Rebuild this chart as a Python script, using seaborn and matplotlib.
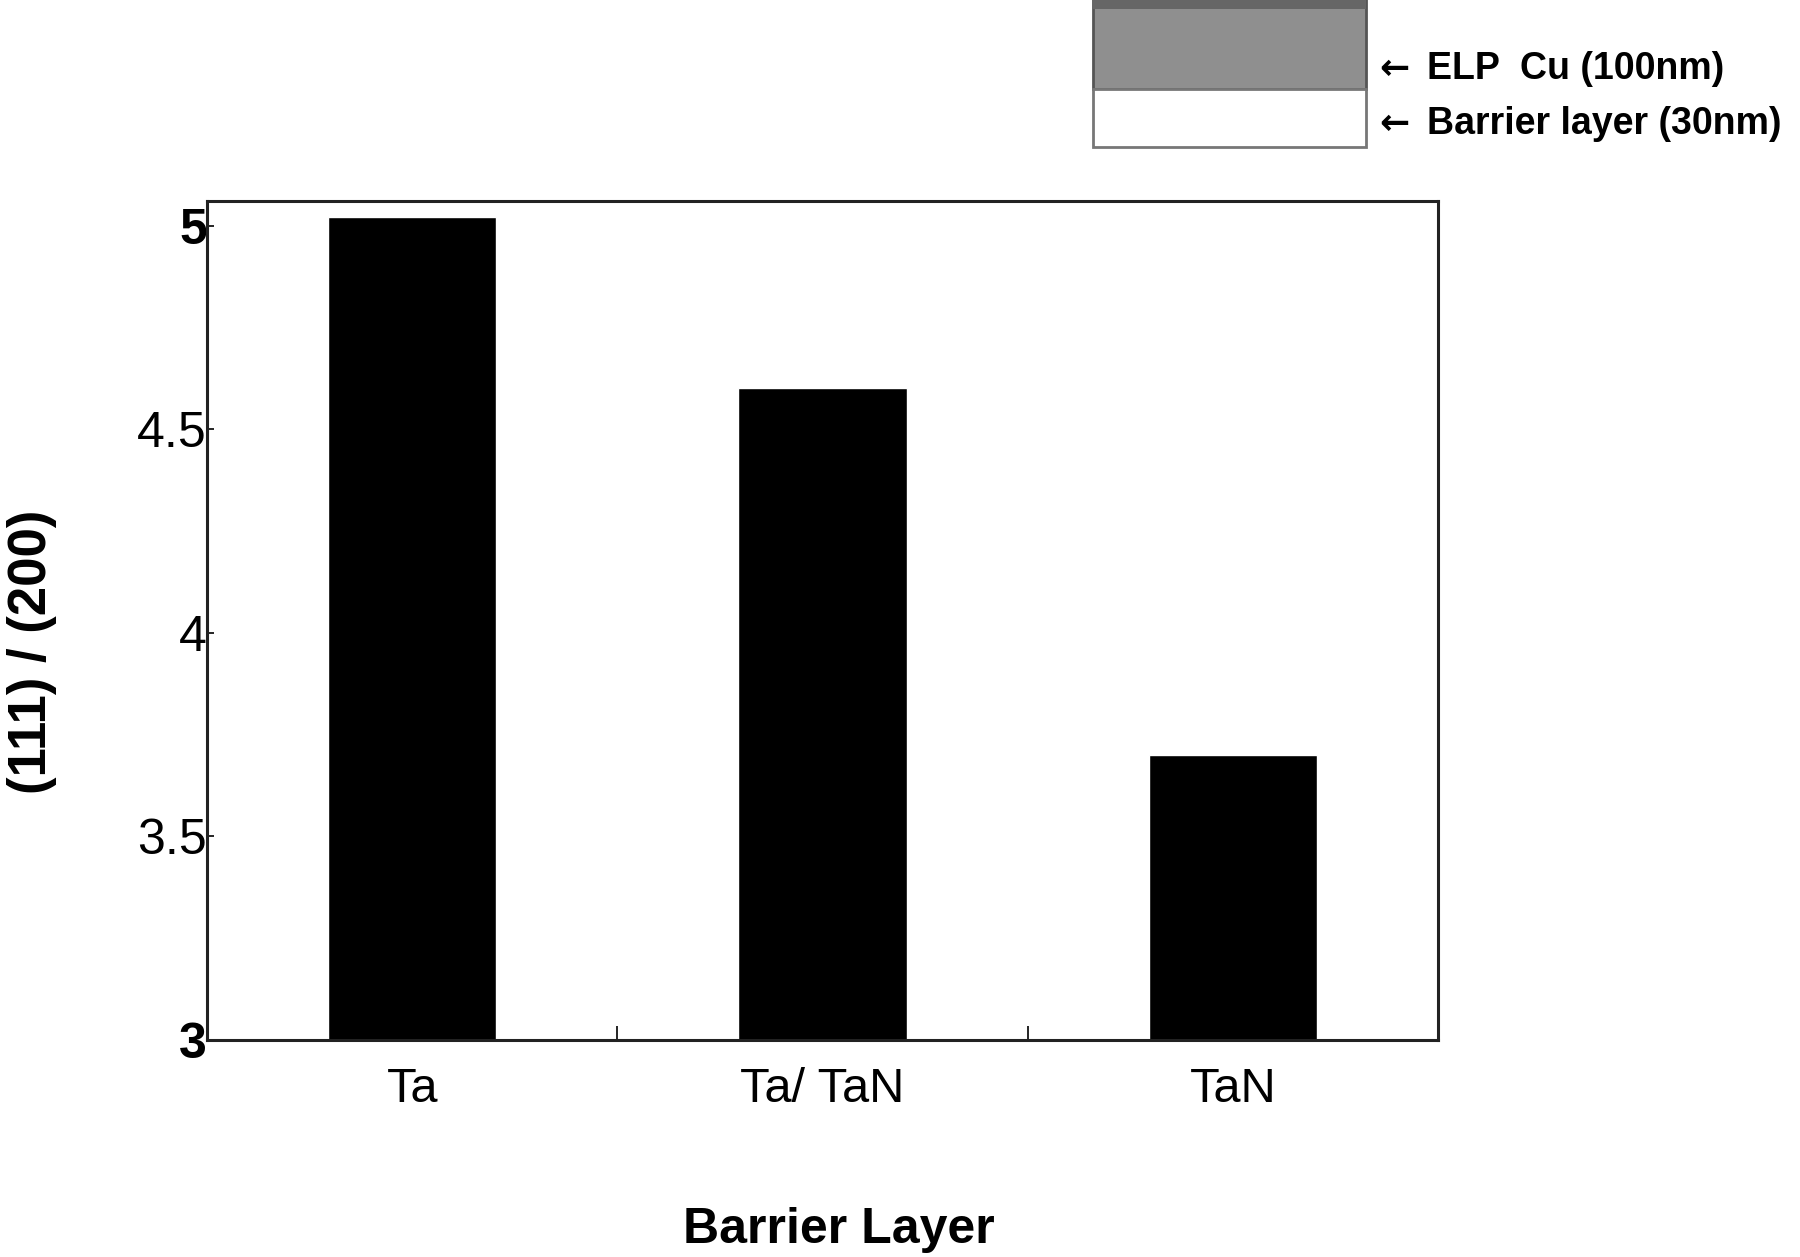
import matplotlib
matplotlib.use("Agg")
import matplotlib.pyplot as plt
import pandas as pd
import seaborn as sns
from matplotlib.patches import Rectangle

barriers = ["Ta", "Ta/ TaN", "TaN"]
ratio_111_200 = [5.02, 4.6, 3.7]
y_ticks = [3, 3.5, 4, 4.5, 5]
y_tick_labels = ["3", "3.5", "4", "4.5", "5"]
stack_labels = ["ELP  Cu (100nm)", "Barrier layer (30nm)"]

sns.set_style("white")
plt.rcParams["font.family"] = ["Liberation Sans", "DejaVu Sans"]
plt.rcParams["text.color"] = "black"
plt.rcParams["axes.labelcolor"] = "black"
plt.rcParams["xtick.color"] = "black"
plt.rcParams["ytick.color"] = "black"

df = pd.DataFrame({"barrier": barriers, "ratio": ratio_111_200})

fig = plt.figure(figsize=(18, 12.57), dpi=100)
ax = fig.add_axes([0.115, 0.173, 0.684, 0.667])

sns.barplot(data=df, x="barrier", y="ratio", color="black", width=0.41,
            saturation=1, ax=ax)
ax.set_xlim(-0.5, 2.5)
ax.set_ylim(3, 5.06)

ax.set_yticks(y_ticks)
ax.set_yticklabels(y_tick_labels, fontsize=36)
for lbl in ax.get_yticklabels():
    if lbl.get_text() in ("3", "5"):
        lbl.set_fontweight("bold")
ax.tick_params(axis="y", direction="in", length=5, width=1.2, pad=0, left=True)
ax.tick_params(axis="x", length=0, pad=20, labelsize=35)
ax.set_xticks([0.5, 1.5], minor=True)
ax.tick_params(axis="x", which="minor", direction="in", length=10, width=1.2, bottom=True)

for s in ax.spines.values():
    s.set_visible(True)
    s.set_color("#222222")
    s.set_linewidth(2.2)

ax.set_xlabel("Barrier Layer", fontsize=36, fontweight="bold")
ax.xaxis.set_label_coords(0.513, -0.2)
ax.set_ylabel("(111) / (200)", fontsize=38, fontweight="bold")
ax.yaxis.set_label_coords(-0.122, 0.462)

# layer stack sketch in the top right corner
fig.patches.append(Rectangle((0.607, 0.929), 0.152, 0.071, transform=fig.transFigure,
                             facecolor="#8f8f8f", edgecolor="#555555", linewidth=2))
fig.patches.append(Rectangle((0.607, 0.993), 0.152, 0.007, transform=fig.transFigure,
                             facecolor="#666666", edgecolor="none"))
fig.patches.append(Rectangle((0.607, 0.883), 0.152, 0.046, transform=fig.transFigure,
                             facecolor="white", edgecolor="#777777", linewidth=2))
for yy, label in zip([0.945, 0.901], stack_labels):
    fig.text(0.766, yy, "\u2190", fontsize=26, fontweight="bold",
             family="DejaVu Sans", va="center", ha="left")
    fig.text(0.793, yy, label, fontsize=27, fontweight="bold",
             va="center", ha="left")

fig.savefig("out.png", dpi=100, facecolor="white")
